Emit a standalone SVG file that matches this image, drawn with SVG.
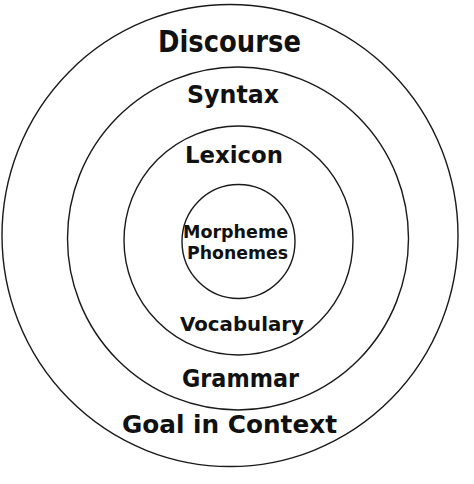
<svg xmlns="http://www.w3.org/2000/svg" width="474" height="484" viewBox="0 0 474 484">
<style>
.ring{fill:none;stroke:#1a1a1a;stroke-width:1.4}
.lbl{font-family:"DejaVu Sans","Liberation Sans",sans-serif;font-weight:bold;fill:#111;text-anchor:middle}
</style>
<rect width="474" height="484" fill="#fff"/>
<g id="ring-discourse">
<ellipse class="ring" cx="230" cy="235.5" rx="228" ry="231"/>
<text class="lbl" x="229.5" y="52" font-size="30" textLength="143" lengthAdjust="spacingAndGlyphs">Discourse</text>
<text class="lbl" x="229.5" y="433" font-size="25" textLength="215" lengthAdjust="spacingAndGlyphs">Goal in Context</text>
</g>
<g id="ring-syntax">
<ellipse class="ring" cx="238" cy="238.5" rx="170.5" ry="171.5"/>
<text class="lbl" x="233" y="103" font-size="24" textLength="92" lengthAdjust="spacingAndGlyphs">Syntax</text>
<text class="lbl" x="240.5" y="387" font-size="25" textLength="117" lengthAdjust="spacingAndGlyphs">Grammar</text>
</g>
<g id="ring-lexicon">
<ellipse class="ring" cx="238.5" cy="240.5" rx="114.5" ry="114.5"/>
<text class="lbl" x="234" y="163" font-size="23" textLength="98" lengthAdjust="spacingAndGlyphs">Lexicon</text>
<text class="lbl" x="242" y="331" font-size="20" textLength="124" lengthAdjust="spacingAndGlyphs">Vocabulary</text>
</g>
<g id="core">
<ellipse class="ring" cx="238.5" cy="241.5" rx="56.5" ry="57"/>
<text class="lbl" x="235.5" y="238" font-size="17.5" textLength="105" lengthAdjust="spacingAndGlyphs">Morpheme</text>
<text class="lbl" x="237.5" y="259" font-size="17.5" textLength="101" lengthAdjust="spacingAndGlyphs">Phonemes</text>
</g>
<g id="connectors"/>
</svg>
